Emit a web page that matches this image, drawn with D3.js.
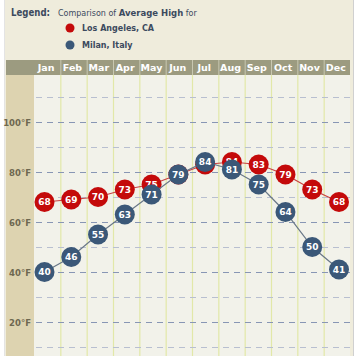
<!DOCTYPE html>
<html><head><meta charset="utf-8">
<script src="https://cdn.jsdelivr.net/npm/d3@7"></script>
<style>body{margin:0;background:#fff;}svg{display:block;font-family:Verdana,"DejaVu Sans",sans-serif;}</style>
</head><body>
<svg id="c" width="361" height="356"></svg>
<script>
const months = ["Jan","Feb","Mar","Apr","May","Jun","Jul","Aug","Sep","Oct","Nov","Dec"];
const losAngeles = [68,69,70,73,75,79,83,84,83,79,73,68];
const milan = [40,46,55,63,71,79,84,81,75,64,50,41];
const majorTicks = [20,40,60,80,100];
const minorTicks = [10,30,50,70,90,110];
const seriesNames = ["Los Angeles, CA","Milan, Italy"];

const svg = d3.select("#c");
svg.append("rect").attr("x",5).attr("y",0).attr("width",348).attr("height",356).attr("fill","#efecdc");
svg.append("line").attr("x1",353.5).attr("x2",353.5).attr("y1",0).attr("y2",356).attr("stroke","#d0d0d0");
svg.append("line").attr("x1",4.5).attr("x2",4.5).attr("y1",0).attr("y2",356).attr("stroke","#e4e4e4");

const band = d3.scaleBand().domain(months).range([34,350]);
const xp = d3.scalePoint().domain(months).range([44.5,339]);
const y = d3.scaleLinear().domain([0,100]).range([372,122]);

svg.append("rect").attr("x",6).attr("y",60).attr("width",344).attr("height",15).attr("fill","#9c9b80");
svg.append("rect").attr("x",6).attr("y",75).attr("width",28).attr("height",281).attr("fill","#ddd3b0");
svg.append("rect").attr("x",34).attr("y",75).attr("width",316).attr("height",281).attr("fill","#f2f2ea");

const hg = svg.append("g");
hg.selectAll("line.sep").data(months.slice(1)).join("line")
  .attr("x1",d=>band(d)+0.5).attr("x2",d=>band(d)+0.5).attr("y1",60).attr("y2",75)
  .attr("stroke","#c8c7b0").attr("stroke-width",1);
hg.selectAll("text").data(months).join("text")
  .attr("x",d=>band(d)+band.bandwidth()/2-1).attr("y",71)
  .attr("text-anchor","middle").attr("fill","#ffffff").attr("font-size","9.5px").attr("font-weight","bold")
  .text(d=>d);

svg.append("g").selectAll("line").data(months.slice(1)).join("line")
  .attr("x1",d=>band(d)+0.5).attr("x2",d=>band(d)+0.5).attr("y1",75).attr("y2",356)
  .attr("stroke","#e2e8a8").attr("stroke-width",1.2);

svg.append("g").selectAll("line").data(minorTicks).join("line")
  .attr("x1",36).attr("x2",350).attr("y1",d=>Math.round(y(d))+0.5).attr("y2",d=>Math.round(y(d))+0.5)
  .attr("stroke","#b8bfd0").attr("stroke-dasharray","6,5");
svg.append("g").selectAll("line").data(majorTicks).join("line")
  .attr("x1",36).attr("x2",350).attr("y1",d=>Math.round(y(d))+0.5).attr("y2",d=>Math.round(y(d))+0.5)
  .attr("stroke","#8896b4").attr("stroke-dasharray","6,5");

svg.append("g").selectAll("text").data(majorTicks).join("text")
  .attr("x",31).attr("y",d=>y(d)+3.5).attr("text-anchor","end")
  .attr("fill","#6e6850").attr("font-size","8.5px").attr("font-weight","bold")
  .text(d=>d+"°F");

const line = d3.line().x((d,i)=>xp(months[i])).y(d=>y(d));

function series(data, lineColor, fill){
  svg.append("path").datum(data).attr("d",line).attr("fill","none")
    .attr("stroke",lineColor).attr("stroke-width",1.2);
  const g = svg.append("g").selectAll("g").data(data).join("g")
    .attr("transform",(d,i)=>`translate(${xp(months[i])},${y(d)})`);
  g.append("circle").attr("r",10).attr("fill",fill);
  g.append("text").attr("y",3.3).attr("text-anchor","middle").attr("fill","#fff")
    .attr("font-size","9px").attr("font-weight","bold").text(d=>d);
}
series(losAngeles,"#c84040","#c40a0a");
series(milan,"#6a7888","#3b5878");

svg.append("text").attr("x",11).attr("y",16).attr("fill","#3c4a5e").attr("font-size","10px")
  .attr("font-weight","bold").attr("textLength",39).attr("lengthAdjust","spacingAndGlyphs").text("Legend:");
const t = svg.append("text").attr("x",58).attr("y",15.5).attr("fill","#3c4a5e").attr("font-size","8px");
t.append("tspan").text("Comparison of ");
t.append("tspan").attr("font-weight","bold").attr("font-size","8.5px").text("Average High");
t.append("tspan").text(" for");
const lg = svg.append("g").selectAll("g").data(seriesNames).join("g")
  .attr("transform",(d,i)=>`translate(70,${28+i*17})`);
lg.append("circle").attr("r",4.5).attr("fill",(d,i)=>i===0?"#c40a0a":"#3b5878");
lg.append("text").attr("x",12).attr("y",3).attr("fill","#3c4a5e").attr("font-size","8px").attr("font-weight","bold").text(d=>d);
</script>
</body></html>
